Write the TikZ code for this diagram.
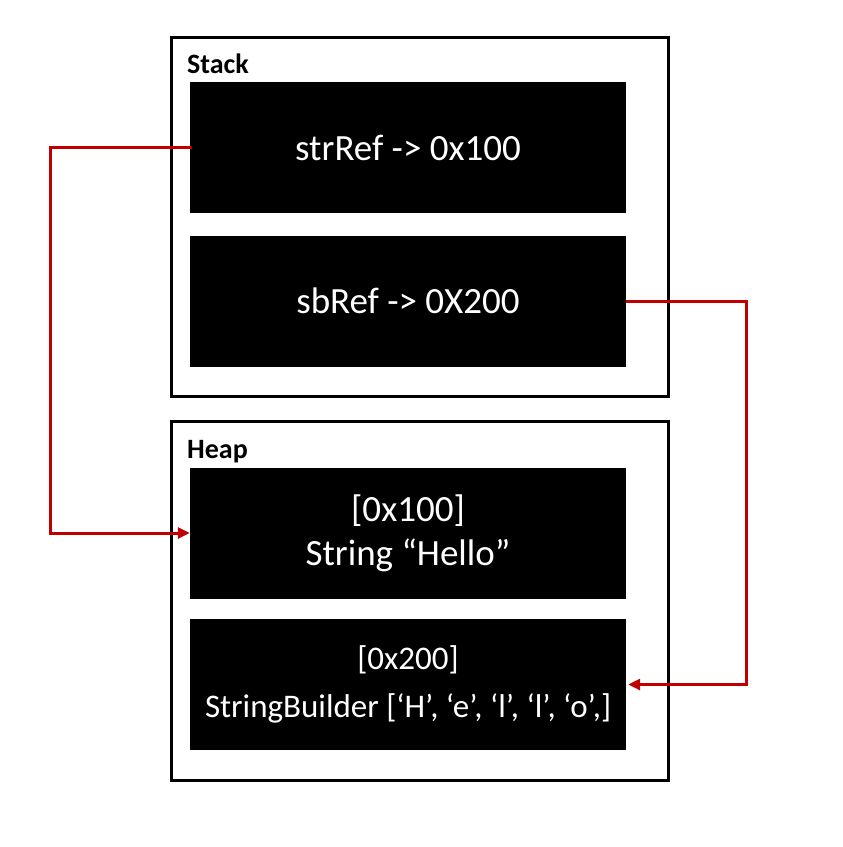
\documentclass[tikz,border=0pt]{standalone}
\usepackage{fontspec}
\setmainfont{Carlito}
\usepackage{tikz}
\usetikzlibrary{shapes,arrows.meta}
\usepackage{color}
\definecolor{refred}{HTML}{C00000}

\begin{document}
\begin{tikzpicture}[x=1pt,y=-1pt,
    frame/.style={draw=black, line width=3pt, rectangle, minimum width=497pt, inner sep=0pt},
    cell/.style={fill=black, text=white, rectangle, minimum width=436pt, inner sep=0pt, font=\fontsize{37}{44}\selectfont, align=center},
    title/.style={anchor=base west, font=\fontsize{28}{32}\selectfont\bfseries, inner sep=0pt},
    ref/.style={draw=refred, line width=3pt, -{Triangle[length=12pt,width=11pt]}}]
    % Sizes
    \pgfmathsetmacro{\cellh}{131}
    \pgfmathsetmacro{\frameh}{359}
    \useasboundingbox (0,0) rectangle (843,847);
    % frames
    \node[frame, minimum height=\frameh pt] (stack) at (419.5,216.5) {};
    \node[frame, minimum height=\frameh pt] (heap) at (419.5,601) {};
    \node[title] (stacklbl) at (187,73) {Stack};
    \node[title] (heaplbl) at (187,458) {Heap};

    % cells
    \node[cell, minimum height=\cellh pt] (strref) at (408,147.5) {strRef -> 0x100};
    \node[cell, minimum height=\cellh pt] (sbref) at (408,301) {sbRef -> 0X200};
    \node[cell, minimum height=\cellh pt] (str) at (408,533) {[0x100]\\String “Hello”};
    \node[cell, minimum height=\cellh pt, font=\fontsize{33}{48}\selectfont] (sb) at (408,684.5) {[0x200]\\StringBuilder [‘H’, ‘e’, ‘l’, ‘l’, ‘o’,]};

    % references
    \draw[ref] ([xshift=2pt]strref.west) -- ++(-141,0) |- (str.west);
    \draw[ref] (sbref.east) -- ++(120,0) |- ([xshift=2pt]sb.east);
\end{tikzpicture}
\end{document}
